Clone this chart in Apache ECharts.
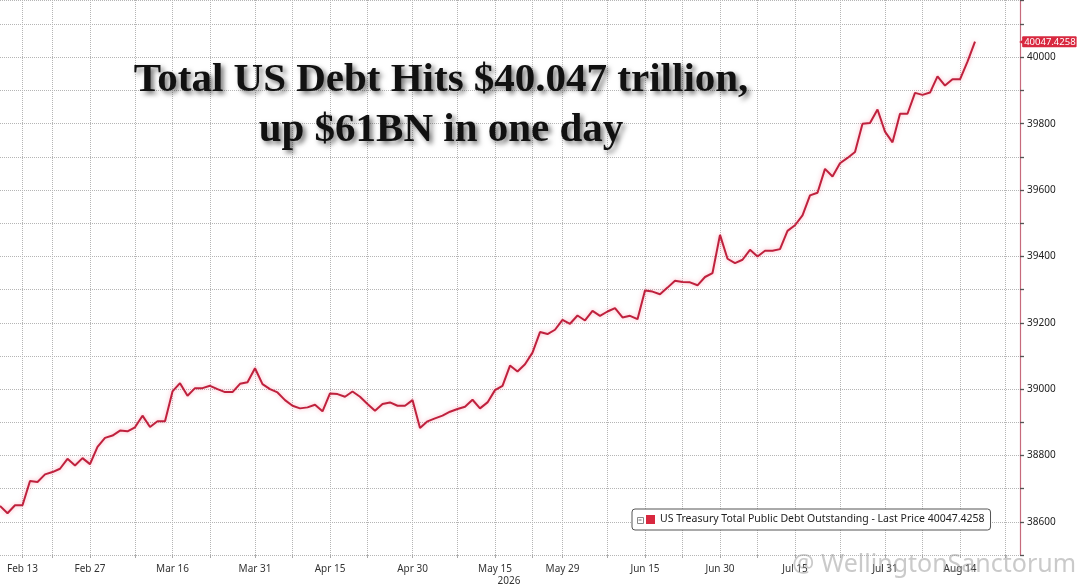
<!DOCTYPE html>
<html>
<head>
<meta charset="utf-8">
<script src="https://cdn.jsdelivr.net/npm/echarts@6/dist/echarts.min.js"></script>
<style>
html,body{margin:0;padding:0;background:#fff;}
#chart{width:1080px;height:588px;}
</style>
</head>
<body>
<div id="chart"></div>
<script>
// Business days shown on the axis (2026)
const categories = [
 '02-10','02-11','02-12','02-13','02-17','02-18','02-19','02-20','02-23','02-24','02-25','02-26','02-27',
 '03-02','03-03','03-04','03-05','03-06','03-09','03-10','03-11','03-12','03-13','03-16','03-17','03-18','03-19','03-20',
 '03-23','03-24','03-25','03-26','03-27','03-30','03-31',
 '04-01','04-02','04-06','04-07','04-08','04-09','04-10','04-13','04-14','04-15','04-16','04-17',
 '04-20','04-21','04-22','04-23','04-24','04-27','04-28','04-29','04-30',
 '05-01','05-04','05-05','05-06','05-07','05-08','05-11','05-12','05-13','05-14','05-15',
 '05-18','05-19','05-20','05-21','05-22','05-26','05-27','05-28','05-29',
 '06-01','06-02','06-03','06-04','06-05','06-08','06-09','06-10','06-11','06-12',
 '06-15','06-16','06-17','06-18','06-22','06-23','06-24','06-25','06-26','06-29','06-30',
 '07-01','07-02','07-06','07-07','07-08','07-09','07-10','07-13','07-14','07-15','07-16','07-17',
 '07-20','07-21','07-22','07-23','07-24','07-27','07-28','07-29','07-30','07-31',
 '08-03','08-04','08-05','08-06','08-07','08-10','08-11','08-12','08-13','08-14',
 '08-17','08-18','08-19','08-20','08-21','08-24','08-25','08-26'
].map(d => '2026-' + d);

// US Treasury total public debt outstanding (USD bn)
const debtValues = [
 38648,38626,38650,38650,38723,38720,38743,38750,38760,38790,38770,38792,38774,
 38826,38853,38860,38875,38873,38885,38920,38886,38903,38903,38993,39018,38980,39003,39003,
 39010,39000,38991,38991,39016,39021,39063,
 39015,39000,38990,38967,38950,38942,38945,38953,38933,38987,38985,
 38977,38993,38977,38955,38935,38955,38960,38950,38950,
 38967,38883,38903,38912,38920,38932,38940,38947,38968,38942,38960,
 38997,39010,39071,39053,39075,39110,39172,39166,39179,
 39209,39197,39222,39207,39236,39221,39234,39244,39216,39221,
 39211,39297,39294,39286,39306,39327,39323,39322,39313,39338,39350,
 39465,39393,39380,39390,39420,39400,39417,39417,39422,39477,39494,
 39524,39584,39592,39664,39641,39681,39697,39715,39800,39802,
 39843,39776,39744,39830,39830,39893,39887,39894,39943,39915,
 39934,39934,39987,40047.4258
];

// X tick labels
const labelDates = ['02-13','02-27','03-16','03-31','04-15','04-30','05-15','05-29','06-15','06-30','07-15','07-31','08-14'].map(d => '2026-' + d);
const labelTexts = ['Feb 13','Feb 27','Mar 16','Mar 31','Apr 15','Apr 30','May 15','May 29','Jun 15','Jun 30','Jul 15','Jul 31','Aug 14'];
// Intermediate vertical grid lines
const gridDates = ['02-20','03-09','03-23','04-08','04-22','05-08','05-22','06-08','06-23','07-08','07-23','08-07','08-24'].map(d => '2026-' + d);

const seriesName = 'US Treasury Total Public Debt Outstanding';
const lastValue = debtValues[debtValues.length - 1];
const lineColor = '#bf213d';
const tagColor = '#d8283f';

const chart = echarts.init(document.getElementById('chart'), null, {renderer: 'canvas'});

const isLabel = (i, v) => labelDates.indexOf(v) >= 0;
const isGrid = (i, v) => labelDates.indexOf(v) >= 0 || gridDates.indexOf(v) >= 0;

chart.setOption({
  backgroundColor: '#ffffff',
  animation: false,
  title: {
    text: 'Total US Debt Hits $40.047 trillion,\nup $61BN in one day',
    left: 436,
    top: 50,
    textAlign: 'center',
    textStyle: {
      fontFamily: 'Liberation Serif',
      fontWeight: 'bold',
      fontSize: 41,
      lineHeight: 50,
      color: '#111',
      textShadowColor: 'rgba(0,0,0,0.55)',
      textShadowBlur: 5,
      textShadowOffsetX: 3,
      textShadowOffsetY: 3
    }
  },
  grid: { left: -3.6, right: 60, top: 0, bottom: 33, containLabel: false },
  legend: {
    left: 632,
    top: 509,
    padding: [5, 6, 5, 14],
    backgroundColor: '#fff',
    borderColor: '#555',
    borderWidth: 1,
    borderRadius: 3,
    itemWidth: 9,
    itemHeight: 9,
    icon: 'rect',
    data: [{ name: seriesName, itemStyle: { color: tagColor } }],
    formatter: n => n + ' - Last Price ' + lastValue.toFixed(4),
    textStyle: { fontFamily: 'Noto Sans', fontSize: 10.5, color: '#222' }
  },
  xAxis: {
    type: 'category',
    data: categories,
    boundaryGap: false,
    axisLine: { show: false },
    axisTick: { show: true, interval: isGrid, length: 3, lineStyle: { color: '#aaa' } },
    axisLabel: {
      interval: isLabel,
      margin: 9,
      fontFamily: 'Noto Sans',
      fontSize: 10,
      color: '#333',
      formatter: v => {
        const k = labelDates.indexOf(v);
        if (k < 0) return '';
        return labelTexts[k] === 'May 15' ? labelTexts[k] + '\n{yr|2026}' : labelTexts[k];
      },
      rich: { yr: { fontFamily: 'Noto Sans', fontSize: 10, color: '#333', padding: [2, 0, 0, 28] } }
    },
    splitLine: { show: true, interval: isGrid, lineStyle: { color: '#b5b5b5', type: 'dotted', width: 1 } }
  },
  yAxis: {
    type: 'value',
    position: 'right',
    min: 38500,
    max: 40173,
    interval: 100,
    axisLine: { show: true, lineStyle: { color: '#c66a7c', width: 1.2 } },
    axisTick: { show: true, length: 4, lineStyle: { color: '#555', width: 1.3 } },
    axisLabel: {
      margin: 7,
      fontFamily: 'Noto Sans',
      fontSize: 10,
      color: '#222',
      formatter: v => (Math.round(v) % 200 === 0 ? String(Math.round(v)) : '')
    },
    splitLine: { show: true, lineStyle: { color: '#b5b5b5', type: 'dotted', width: 1 } }
  },
  graphic: [
    { type: 'rect', left: 637, top: 517, shape: { width: 6, height: 6 }, style: { fill: '#fff', stroke: '#888', lineWidth: 1 }, z: 100 },
    { type: 'rect', left: 638.5, top: 519.5, shape: { width: 3, height: 1 }, style: { fill: '#777' }, z: 100 },
    { type: 'text', left: 792, top: 552, z: 100,
      style: { text: '@ WellingtonSanctorum', fontFamily: 'Noto Sans', fontSize: 25, fill: 'rgba(150,150,150,0.5)' } }
  ],
  series: [{
    name: seriesName,
    type: 'line',
    data: debtValues,
    symbol: 'none',
    clip: false,
    lineStyle: { color: lineColor, width: 2, shadowColor: 'rgba(245,100,130,0.5)', shadowBlur: 4 },
    itemStyle: { color: tagColor },
    markLine: {
      silent: true,
      symbol: ['none', 'none'],
      data: [{ yAxis: lastValue }],
      lineStyle: { color: 'rgba(0,0,0,0)', width: 0, type: 'solid' },
      label: {
        show: true,
        position: 'end',
        distance: -1,
        formatter: () => '{a|◀}{b|' + lastValue.toFixed(4) + '}',
        rich: {
          a: { color: tagColor, fontSize: 8, fontFamily: 'DejaVu Sans', padding: [0, -3, 0, 0] },
          b: { color: '#fff', backgroundColor: tagColor, fontFamily: 'Noto Sans', fontSize: 9.5, padding: [1, 1, 0, 2], borderRadius: 1 }
        }
      }
    }
  }]
});
</script>
</body>
</html>
